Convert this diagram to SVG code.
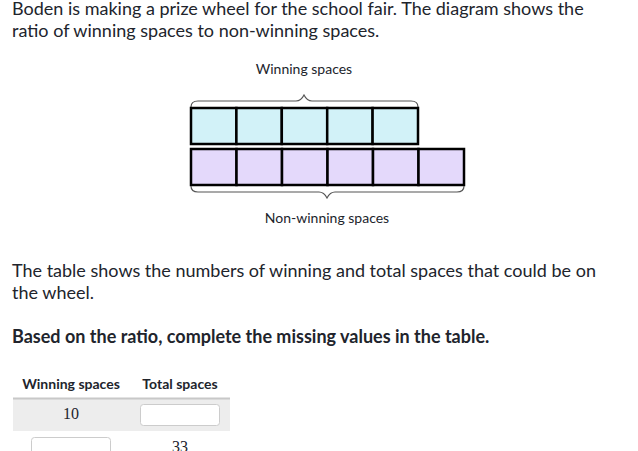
<svg xmlns="http://www.w3.org/2000/svg" width="638" height="451" viewBox="0 0 638 451">
<style>
.t{font-family:Lato,"Open Sans","Liberation Sans",sans-serif;fill:#21242c}
.p{font-size:18px}
.s{font-size:14px}
.h{font-size:14px;font-weight:bold}
.m{font-family:"Liberation Serif",serif;font-size:16px;fill:#21242c}
.w{fill:#d2f2f8;stroke:#000;stroke-width:2.5}
.n{fill:#e4d9fb;stroke:#000;stroke-width:2.5}
.br{fill:none;stroke:#555;stroke-width:1.2}
.in{fill:#fff;stroke:#ccc;stroke-width:1}
</style>
<rect width="638" height="451" fill="#fff"/>
<g id="intro">
<text class="t p" x="12" y="15">Boden is making a prize wheel for the school fair. The diagram shows the</text>
<text class="t p" x="12" y="37">ratio of winning spaces to non-winning spaces.</text>
</g>
<g id="winning">
<text class="t s" x="304" y="74" text-anchor="middle">Winning spaces</text>
<path class="br" d="M191,107 Q191,101 198,101 L296,101 Q301,101 304,95 Q307,101 312,101 L411,101 Q418,101 418,107"/>
<rect class="w" x="191" y="108" width="45.4" height="36"/>
<rect class="w" x="236.4" y="108" width="45.4" height="36"/>
<rect class="w" x="281.8" y="108" width="45.4" height="36"/>
<rect class="w" x="327.2" y="108" width="45.4" height="36"/>
<rect class="w" x="372.6" y="108" width="45.4" height="36"/>
</g>
<g id="nonwinning">
<rect class="n" x="191" y="149" width="45.5" height="36"/>
<rect class="n" x="236.5" y="149" width="45.5" height="36"/>
<rect class="n" x="282" y="149" width="45.5" height="36"/>
<rect class="n" x="327.5" y="149" width="45.5" height="36"/>
<rect class="n" x="373" y="149" width="45.5" height="36"/>
<rect class="n" x="418.5" y="149" width="45.5" height="36"/>
<path class="br" d="M191,186 Q191,192 198,192 L319,192 Q324,192 327,198 Q330,192 335,192 L457,192 Q464,192 464,186"/>
<text class="t s" x="327" y="223" text-anchor="middle">Non-winning spaces</text>
</g>
<g id="question">
<text class="t p" x="12" y="277">The table shows the numbers of winning and total spaces that could be on</text>
<text class="t p" x="12" y="299">the wheel.</text>
<text class="t p" x="12" y="343" font-weight="bold">Based on the ratio, complete the missing values in the table.</text>
</g>
<g id="table">
<text class="t h" x="71" y="389" text-anchor="middle">Winning spaces</text>
<text class="t h" x="180" y="389" text-anchor="middle">Total spaces</text>
<rect x="13" y="398" width="217" height="33" fill="#ededed"/>
<line x1="13" y1="398.5" x2="230" y2="398.5" stroke="#c8c8c8" stroke-width="2"/>
<text class="m" x="71" y="419" text-anchor="middle">10</text>
<rect class="in" x="140.5" y="404.5" width="79" height="21" rx="3"/>
<rect class="in" x="31.5" y="437.5" width="79" height="21" rx="3"/>
<text class="m" x="180" y="452" text-anchor="middle">33</text>
</g>
</svg>
